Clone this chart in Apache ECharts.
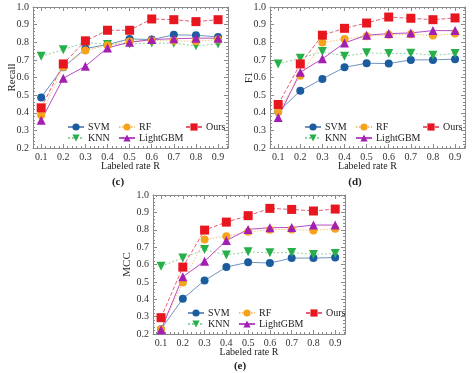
<!DOCTYPE html>
<html><head><meta charset="utf-8">
<script src="https://cdn.jsdelivr.net/npm/echarts@6/dist/echarts.min.js"></script>
<style>html,body{margin:0;padding:0;background:#fff}#c{width:474px;height:373px}</style>
</head><body><div id="c"></div>
<script>
// ---- data ----
const rates = [0.1, 0.2, 0.3, 0.4, 0.5, 0.6, 0.7, 0.8, 0.9];
const xTicks = [0.1, 0.2, 0.3, 0.4, 0.5, 0.6, 0.7, 0.8, 0.9];
const yTicks = [0.2, 0.3, 0.4, 0.5, 0.6, 0.7, 0.8, 0.9, 1.0];
const modelNames = ['SVM', 'KNN', 'RF', 'LightGBM', 'Ours'];
const metricNames = ['Recall', 'F1', 'MCC'];
const panelLabels = ['(c)', '(d)', '(e)'];
const xAxisTitle = 'Labeled rate R';

const recallSVM = [0.487, 0.658, 0.764, 0.787, 0.819, 0.815, 0.842, 0.840, 0.830];
const recallKNN = [0.720, 0.758, 0.800, 0.787, 0.790, 0.796, 0.794, 0.780, 0.790];
const recallRF = [0.386, 0.660, 0.753, 0.783, 0.804, 0.810, 0.808, 0.806, 0.815];
const recallLGBM = [0.357, 0.596, 0.664, 0.768, 0.800, 0.815, 0.820, 0.823, 0.823];
const recallOurs = [0.428, 0.677, 0.808, 0.868, 0.868, 0.932, 0.928, 0.917, 0.928];

const f1SVM = [0.405, 0.525, 0.592, 0.658, 0.681, 0.679, 0.700, 0.700, 0.704];
const f1KNN = [0.677, 0.709, 0.747, 0.721, 0.740, 0.736, 0.738, 0.726, 0.736];
const f1RF = [0.405, 0.610, 0.798, 0.819, 0.834, 0.842, 0.845, 0.838, 0.849];
const f1LGBM = [0.373, 0.630, 0.706, 0.796, 0.840, 0.849, 0.853, 0.866, 0.866];
const f1Ours = [0.447, 0.677, 0.840, 0.879, 0.909, 0.943, 0.936, 0.928, 0.938];

const mccSVM = [0.228, 0.403, 0.508, 0.585, 0.613, 0.608, 0.637, 0.637, 0.640];
const mccKNN = [0.590, 0.638, 0.686, 0.654, 0.673, 0.667, 0.669, 0.658, 0.663];
const mccRF = [0.228, 0.496, 0.744, 0.763, 0.788, 0.800, 0.802, 0.796, 0.806];
const mccLGBM = [0.225, 0.529, 0.619, 0.738, 0.802, 0.812, 0.813, 0.827, 0.827];
const mccOurs = [0.294, 0.585, 0.798, 0.844, 0.881, 0.923, 0.917, 0.908, 0.919];

const panelData = [
  [recallSVM, recallKNN, recallRF, recallLGBM, recallOurs],
  [f1SVM, f1KNN, f1RF, f1LGBM, f1Ours],
  [mccSVM, mccKNN, mccRF, mccLGBM, mccOurs]
];

// ---- styles ----
const FONT = 'Liberation Serif';
const frameColor = '#8a8a8a';
const styles = [
  {marker: '#1b5c9f', line: '#6f93bd', type: 'solid', symbol: 'circle', size: 8},
  {marker: '#27b04a', line: '#8fd39c', type: [2, 2], symbol: 'path://M0,0 L10,0 L5,9 Z', size: 9},
  {marker: '#f6a31c', line: '#f4c47c', type: [1.5, 1.5], symbol: 'circle', size: 8},
  {marker: '#a31fb2', line: '#b84cc6', type: 'solid', symbol: 'triangle', size: 9},
  {marker: '#e8161e', line: '#e2607a', type: [4, 2], symbol: 'rect', size: 9}
];
const grids = [
  {left: 33, top: 7, width: 195, height: 141, nameGapY: 15, lab: [118, 182]},
  {left: 270, top: 7, width: 195, height: 141, nameGapY: 15, lab: [355, 182]},
  {left: 153, top: 195, width: 192, height: 139, nameGapY: 20, lab: [240, 366]}
];
const xMinor = [];
for (let v = 0.06; v < 0.95; v += 0.02) xMinor.push(Math.round(v * 100) / 100);

const option = {
  backgroundColor: '#fff',
  animation: false,
  grid: grids.map(g => ({left: g.left, top: g.top, width: g.width, height: g.height})),
  xAxis: [], yAxis: [], series: [], legend: [], graphic: []
};

grids.forEach((g, gi) => {
  const xBase = {type: 'value', gridIndex: gi, min: 0.063, max: 0.945, splitLine: {show: false}};
  option.xAxis.push(Object.assign({}, xBase, {
    position: 'bottom',
    name: xAxisTitle, nameLocation: 'middle', nameGap: 13, nameMoveOverlap: false,
    nameTextStyle: {fontFamily: FONT, fontSize: 10, color: '#222'},
    axisLine: {show: true, lineStyle: {color: frameColor, width: 1}},
    axisTick: {show: true, inside: true, length: 4, customValues: xTicks, lineStyle: {color: frameColor}},
    axisLabel: {show: true, margin: 4, customValues: xTicks, formatter: v => v.toFixed(1),
      fontFamily: FONT, fontSize: 10, color: '#333'}
  }));
  option.xAxis.push(Object.assign({}, xBase, {
    position: 'top',
    axisLine: {show: true, lineStyle: {color: frameColor, width: 1}},
    axisTick: {show: true, inside: true, length: 4, customValues: xTicks, lineStyle: {color: frameColor}},
    axisLabel: {show: false}
  }));
  ['bottom', 'top'].forEach(pos => option.xAxis.push(Object.assign({}, xBase, {
    position: pos,
    axisLine: {show: false},
    axisTick: {show: true, inside: true, length: 2, customValues: xMinor, lineStyle: {color: frameColor}},
    axisLabel: {show: false}
  })));
  const yBase = {type: 'value', gridIndex: gi, min: 0.2, max: 1.0, interval: 0.1, splitLine: {show: false},
    axisLine: {show: true, lineStyle: {color: frameColor, width: 1}},
    axisTick: {show: true, inside: true, length: 4, lineStyle: {color: frameColor}},
    minorTick: {show: true, splitNumber: 5, length: 2, lineStyle: {color: frameColor}}};
  option.yAxis.push(Object.assign({}, yBase, {
    position: 'left',
    name: metricNames[gi], nameLocation: 'middle', nameGap: g.nameGapY, nameMoveOverlap: false,
    nameTextStyle: {fontFamily: FONT, fontSize: 11, color: '#222'},
    axisLabel: {show: true, margin: 4, formatter: v => v.toFixed(1), customValues: yTicks,
      fontFamily: FONT, fontSize: 10, color: '#333'}
  }));
  option.yAxis.push(Object.assign({}, yBase, {position: 'right', axisLabel: {show: false}}));

  modelNames.forEach((name, si) => {
    const s = styles[si];
    option.series.push({
      type: 'line', name: name, xAxisIndex: gi * 4, yAxisIndex: gi * 2,
      data: rates.map((r, i) => [r, panelData[gi][si][i]]),
      symbol: s.symbol, symbolSize: s.size, showSymbol: true,
      lineStyle: {color: s.line, width: 1, type: s.type},
      itemStyle: {color: s.marker},
      emphasis: {disabled: true}
    });
  });

  const bottom = g.top + g.height;
  const cols = [[['SVM', 'KNN'], 34], [['RF', 'LightGBM'], 85], [['Ours'], 152]];
  cols.forEach(([names, off]) => option.legend.push({
    data: names, orient: 'vertical', left: g.left + off, top: bottom - 26,
    padding: 0, itemGap: 1, itemWidth: 16, itemHeight: 9,
    textStyle: {fontFamily: FONT, fontSize: 10, color: '#222', padding: [0, 0, 0, -1]},
    selectedMode: false
  }));

  option.graphic.push({type: 'text', x: g.lab[0], y: g.lab[1],
    style: {text: panelLabels[gi], textAlign: 'center', textVerticalAlign: 'middle',
      font: 'bold 11px "Liberation Serif"', fill: '#222'}});
});

const chart = echarts.init(document.getElementById('c'), null, {renderer: 'canvas'});
chart.setOption(option);
</script>
</body></html>
